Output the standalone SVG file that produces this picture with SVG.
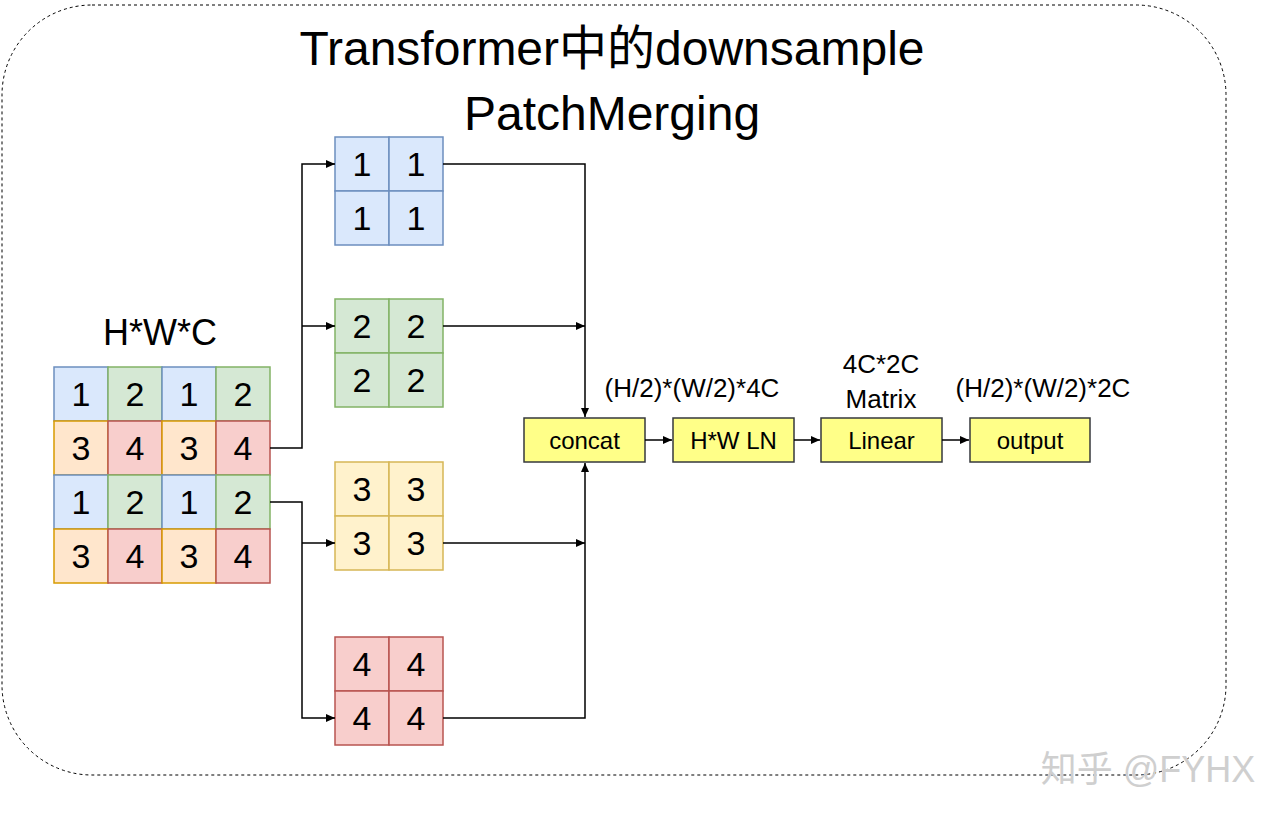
<svg xmlns="http://www.w3.org/2000/svg" width="1288" height="821" viewBox="0 0 1288 821">
<style>
text{font-family:"Liberation Sans",Arial,"Noto Sans CJK SC",sans-serif;fill:#000}
.n{font-size:34px;text-anchor:middle;dominant-baseline:central}
.b{fill:#dae8fc;stroke:#6c8ebf;stroke-width:1.5}
.g{fill:#d5e8d4;stroke:#82b366;stroke-width:1.5}
.o{fill:#ffe6cc;stroke:#d79b00;stroke-width:1.5}
.r{fill:#f8cecc;stroke:#b85450;stroke-width:1.5}
.y{fill:#fff2cc;stroke:#d6b656;stroke-width:1.5}
.box{fill:#ffff88;stroke:#36393d;stroke-width:1.5}
.bt{font-size:24px;text-anchor:middle;dominant-baseline:central}
.lb{font-size:26px;text-anchor:middle}
.c{fill:none;stroke:#000;stroke-width:1.5;marker-end:url(#a)}
</style>
<defs><marker id="a" markerWidth="10" markerHeight="10" refX="9" refY="5" orient="auto" markerUnits="userSpaceOnUse"><path d="M0,1 L9,5 L0,9 Z" fill="#000"/></marker></defs>
<rect width="1288" height="821" fill="#fff"/>
<rect x="2" y="5" width="1224" height="770" rx="90" fill="none" stroke="#000" stroke-dasharray="3,3"/>
<text x="612" y="65" font-size="48" text-anchor="middle">Transformer中的downsample</text>
<text x="612" y="130" font-size="48" text-anchor="middle">PatchMerging</text>
<text x="160" y="345" font-size="36" text-anchor="middle">H*W*C</text>
<g id="input">
<rect class="b" x="54" y="367" width="54" height="54"/><rect class="g" x="108" y="367" width="54" height="54"/><rect class="b" x="162" y="367" width="54" height="54"/><rect class="g" x="216" y="367" width="54" height="54"/>
<rect class="o" x="54" y="421" width="54" height="54"/><rect class="r" x="108" y="421" width="54" height="54"/><rect class="o" x="162" y="421" width="54" height="54"/><rect class="r" x="216" y="421" width="54" height="54"/>
<rect class="b" x="54" y="475" width="54" height="54"/><rect class="g" x="108" y="475" width="54" height="54"/><rect class="b" x="162" y="475" width="54" height="54"/><rect class="g" x="216" y="475" width="54" height="54"/>
<rect class="o" x="54" y="529" width="54" height="54"/><rect class="r" x="108" y="529" width="54" height="54"/><rect class="o" x="162" y="529" width="54" height="54"/><rect class="r" x="216" y="529" width="54" height="54"/>
<text class="n" x="81" y="394">1</text><text class="n" x="135" y="394">2</text><text class="n" x="189" y="394">1</text><text class="n" x="243" y="394">2</text>
<text class="n" x="81" y="448">3</text><text class="n" x="135" y="448">4</text><text class="n" x="189" y="448">3</text><text class="n" x="243" y="448">4</text>
<text class="n" x="81" y="502">1</text><text class="n" x="135" y="502">2</text><text class="n" x="189" y="502">1</text><text class="n" x="243" y="502">2</text>
<text class="n" x="81" y="556">3</text><text class="n" x="135" y="556">4</text><text class="n" x="189" y="556">3</text><text class="n" x="243" y="556">4</text>
</g>
<g id="p1"><rect class="b" x="335" y="137" width="54" height="54"/><rect class="b" x="389" y="137" width="54" height="54"/><rect class="b" x="335" y="191" width="54" height="54"/><rect class="b" x="389" y="191" width="54" height="54"/>
<text class="n" x="362" y="164">1</text><text class="n" x="416" y="164">1</text><text class="n" x="362" y="218">1</text><text class="n" x="416" y="218">1</text></g>
<g id="p2"><rect class="g" x="335" y="299" width="54" height="54"/><rect class="g" x="389" y="299" width="54" height="54"/><rect class="g" x="335" y="353" width="54" height="54"/><rect class="g" x="389" y="353" width="54" height="54"/>
<text class="n" x="362" y="326">2</text><text class="n" x="416" y="326">2</text><text class="n" x="362" y="380">2</text><text class="n" x="416" y="380">2</text></g>
<g id="p3"><rect class="y" x="335" y="462" width="54" height="54"/><rect class="y" x="389" y="462" width="54" height="54"/><rect class="y" x="335" y="516" width="54" height="54"/><rect class="y" x="389" y="516" width="54" height="54"/>
<text class="n" x="362" y="489">3</text><text class="n" x="416" y="489">3</text><text class="n" x="362" y="543">3</text><text class="n" x="416" y="543">3</text></g>
<g id="p4"><rect class="r" x="335" y="637" width="54" height="54"/><rect class="r" x="389" y="637" width="54" height="54"/><rect class="r" x="335" y="691" width="54" height="54"/><rect class="r" x="389" y="691" width="54" height="54"/>
<text class="n" x="362" y="664">4</text><text class="n" x="416" y="664">4</text><text class="n" x="362" y="718">4</text><text class="n" x="416" y="718">4</text></g>
<g id="concat"><rect class="box" x="524" y="418" width="121" height="44"/><text class="bt" x="584.5" y="440">concat</text></g>
<g id="ln"><rect class="box" x="673" y="418" width="121" height="44"/><text class="bt" x="733.5" y="440">H*W LN</text></g>
<g id="linear"><rect class="box" x="821" y="418" width="121" height="44"/><text class="bt" x="881.5" y="440">Linear</text></g>
<g id="output"><rect class="box" x="970" y="418" width="120" height="44"/><text class="bt" x="1030" y="440">output</text></g>
<text class="lb" x="692" y="397">(H/2)*(W/2)*4C</text>
<text class="lb" x="881" y="373">4C*2C</text>
<text class="lb" x="881" y="408">Matrix</text>
<text class="lb" x="1043" y="397">(H/2)*(W/2)*2C</text>
<g id="connectors">
<path class="c" d="M270,448 H302 V164 H335"/>
<path class="c" d="M302,326 H335"/>
<path class="c" d="M270,502 H302 V718 H335"/>
<path class="c" d="M302,543 H335"/>
<path class="c" d="M443,164 H585 V417"/>
<path class="c" d="M443,326 H585"/>
<path class="c" d="M443,718 H585 V463"/>
<path class="c" d="M443,543 H585"/>
<path class="c" d="M645,440 H672"/>
<path class="c" d="M794,440 H820"/>
<path class="c" d="M942,440 H969"/>
</g>
<text x="1148" y="782" font-size="36" text-anchor="middle" fill="#c8c8c8" style="fill:#cfcfcf">知乎 @FYHX</text>
</svg>
